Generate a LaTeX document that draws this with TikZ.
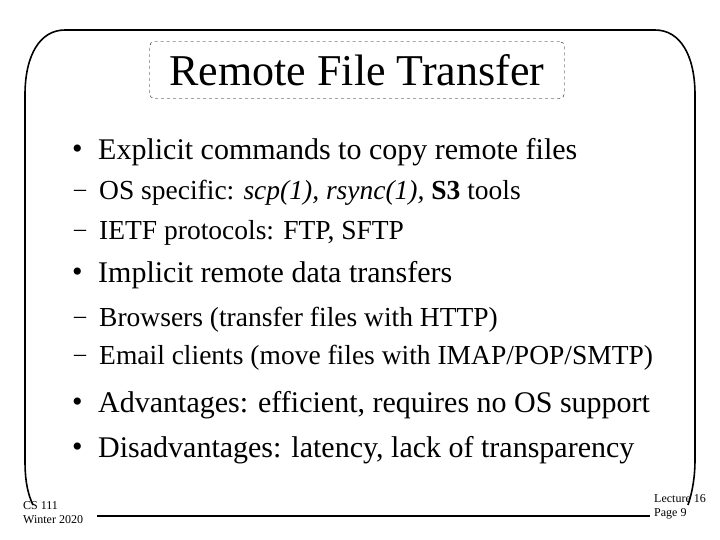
\documentclass[tikz,border=0pt]{standalone}
\usepackage{fontspec}
\setmainfont{Liberation Serif}
\begin{document}
\begin{tikzpicture}[x=1pt,y=-1pt,
  big/.style={anchor=west,font=\fontsize{30}{32}\selectfont,inner sep=0},
  sub/.style={anchor=west,font=\fontsize{27.5}{29}\selectfont,inner sep=0},
  dsh/.style={anchor=west,font=\fontsize{24}{26}\selectfont,inner sep=0},
  foot/.style={anchor=west,font=\fontsize{12}{14}\selectfont,inner sep=0,align=left}]
\useasboundingbox (0,0) rectangle (720,540);
\draw[line width=1.6pt] (33,505) .. controls (26,490) and (25,475) .. (25,460) -- (25,95) .. controls (25,55) and (40,30) .. (65,30) -- (655,30) .. controls (680,30) and (695,55) .. (695,95) -- (695,460) .. controls (695,475) and (693,490) .. (688,505);
\node[draw,dashed,rounded corners=5pt,minimum width=415,minimum height=57,font=\fontsize{44}{46}\selectfont] (title) at (357,70) {Remote File Transfer};
\foreach \y/\t [count=\i] in {152/Explicit commands to copy remote files,275/Implicit remote data transfers,405/{Advantages: efficient, requires no OS support},450/{Disadvantages: latency, lack of transparency}}{
  \node[big] (m\i) at (72,\y) {•};
  \node[big] (b\i) at (98,\y) {\t};
}
\foreach \y/\t [count=\i] in {193/{OS specific: \textit{scp(1), rsync(1),} \textbf{S3} tools},233/{IETF protocols: FTP, SFTP},320/{Browsers (transfer files with HTTP)},358/{Email clients (move files with IMAP/POP/SMTP)}}{
  \node[dsh] (d\i) at (74,\y) {–};
  \node[sub] (s\i) at (99,\y) {\t};
}
\node[foot] (fl) at (23,513) {CS 111\\Winter 2020};
\node[foot] (fr) at (654,507) {Lecture 16\\Page 9};
\draw[line width=1.6pt] (97,516) -- (650,516);
\end{tikzpicture}
\end{document}
